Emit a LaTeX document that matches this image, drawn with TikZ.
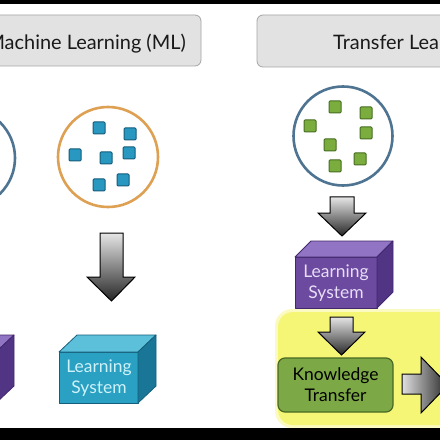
\documentclass[tikz,border=0pt]{standalone}
\usepackage{fontspec}
\setmainfont{Lato}
\begin{document}
\begin{tikzpicture}[x=1bp,y=-1bp,
  hdr/.style={draw=hdrline, fill=hdrfill, rounded corners=6bp, line width=0.8bp},
  hdrtext/.style={font=\fontsize{20}{22}\selectfont, text=black!90, inner sep=0pt},
  ring/.style={circle, draw, line width=2.6bp, minimum size=#1, inner sep=0pt},
  bsq/.style={draw=bsqline, fill=bsqfill, line width=1bp, minimum size=12bp, inner sep=0pt, rounded corners=1bp},
  gsq/.style={draw=gsqline, fill=gsqfill, line width=1bp, minimum size=12bp, inner sep=0pt, rounded corners=1bp},
  blockarrow/.style={draw=black, line width=1bp, line join=miter},
  boxtext/.style={font=\fontsize{17.5}{21}\selectfont, align=center, inner sep=0pt},
]
\definecolor{hdrfill}{RGB}{226,226,226}
\definecolor{hdrline}{RGB}{165,165,165}
\definecolor{ringblue}{RGB}{78,116,146}
\definecolor{ringorange}{RGB}{222,160,82}
\definecolor{bsqfill}{RGB}{40,152,192}
\definecolor{bsqline}{RGB}{22,92,122}
\definecolor{gsqfill}{RGB}{122,172,62}
\definecolor{gsqline}{RGB}{70,110,32}
\definecolor{tealfront}{RGB}{42,160,194}
\definecolor{tealtop}{RGB}{92,192,218}
\definecolor{tealside}{RGB}{26,118,150}
\definecolor{tealline}{RGB}{20,96,124}
\definecolor{tealtext}{RGB}{205,242,250}
\definecolor{purpfront}{RGB}{108,74,160}
\definecolor{purptop}{RGB}{145,116,196}
\definecolor{purpside}{RGB}{82,52,132}
\definecolor{purpline}{RGB}{66,40,110}
\definecolor{purptext}{RGB}{232,222,248}
\definecolor{yel}{RGB}{246,246,118}
\definecolor{ktfill}{RGB}{124,168,70}
\definecolor{ktline}{RGB}{72,104,36}

\useasboundingbox (0,0) rectangle (440,440);
\clip (0,0) rectangle (440,440);
\fill[white] (0,0) rectangle (440,440);

% header boxes
\draw[hdr] (-20,15) rectangle (201,66);
\draw[hdr] (257,15) rectangle (470,67);
\node[hdrtext, anchor=base east] (mltitle) at (186,50) {Machine Learning (ML)};
\node[hdrtext, anchor=base west] (tltitle) at (333,50) {Transfer Learning (TL)};

% rings
\node[ring=100bp, draw=ringblue] (leftring) at (-35,158) {};
\node[ring=100bp, draw=ringorange] (mlring) at (108,157) {};
\node[ring=99bp, draw=ringblue] (tlring) at (343,136) {};

% blue squares
\foreach \i/\px/\py in {1/99/128, 2/130/134, 3/75/155, 4/106/158, 5/129/153, 6/123/180, 7/99/185}
  \node[bsq] (bs\i) at (\px,\py) {};
% green squares
\foreach \i/\px/\py in {1/335/107, 2/366/113, 3/310/126, 4/366/133, 5/330/145, 6/360/159, 7/335/166}
  \node[gsq] (gs\i) at (\px,\py) {};

% yellow area
\fill[yel!45, rounded corners=17bp] (275,309) rectangle (470,428);
\fill[yel, rounded corners=15bp] (278,312) rectangle (470,425);

% down arrow ML
\shade[top color=gray!20, bottom color=black!85]
  (100,233) -- (123,233) -- (123,277) -- (135,277) -- (111.5,301) -- (87,277) -- (100,277) -- cycle;
\draw[blockarrow] (100,233) -- (123,233) -- (123,277) -- (135,277) -- (111.5,301) -- (87,277) -- (100,277) -- cycle;

% down arrow TL (ring to system)
\shade[top color=gray!20, bottom color=black!85]
  (330,197) -- (354,197) -- (354,213) -- (366,213) -- (342,236) -- (318,213) -- (330,213) -- cycle;
\draw[blockarrow] (330,197) -- (354,197) -- (354,213) -- (366,213) -- (342,236) -- (318,213) -- (330,213) -- cycle;

% down arrow TL (system to knowledge transfer)
\shade[top color=gray!20, bottom color=black!85]
  (330,317) -- (353,317) -- (353,332) -- (365,332) -- (341.5,355) -- (318,332) -- (330,332) -- cycle;
\draw[blockarrow] (330,317) -- (353,317) -- (353,332) -- (365,332) -- (341.5,355) -- (318,332) -- (330,332) -- cycle;

% right arrow
\shade[left color=gray!25, right color=black!85]
  (402,374) -- (421,374) -- (421,357) -- (448,385) -- (421,413) -- (421,394) -- (402,394) -- cycle;
\draw[blockarrow] (402,374) -- (421,374) -- (421,357) -- (448,385) -- (421,413) -- (421,394) -- (402,394) -- cycle;

% left purple box (cut)
\begin{scope}[draw=purpline, line width=0.8bp, line join=round]
\filldraw[fill=purpfront] (-83,352) rectangle (-4,403);
\filldraw[fill=purptop] (-83,352) -- (-65,335) -- (14,335) -- (-4,352) -- cycle;
\filldraw[fill=purpside] (-4,352) -- (14,335) -- (14,386) -- (-4,403) -- cycle;
\end{scope}

% teal box
\begin{scope}[draw=tealline, line width=0.8bp, line join=round]
\filldraw[fill=tealfront] (59,352) rectangle (138,403);
\filldraw[fill=tealtop] (59,352) -- (77,335) -- (156,335) -- (138,352) -- cycle;
\filldraw[fill=tealside] (138,352) -- (156,335) -- (156,386) -- (138,403) -- cycle;
\end{scope}
\node[boxtext, text=tealtext] (mlsys) at (99,378) {Learning\\System};

% purple box TL
\begin{scope}[draw=purpline, line width=0.8bp, line join=round]
\filldraw[fill=purpfront] (295,257) rectangle (377,308);
\filldraw[fill=purptop] (295,257) -- (311,241) -- (393,241) -- (377,257) -- cycle;
\filldraw[fill=purpside] (377,257) -- (393,241) -- (393,292) -- (377,308) -- cycle;
\end{scope}
\node[boxtext, text=purptext] (tlsys) at (336,283) {Learning\\System};

% knowledge transfer
\node[draw=ktline, fill=ktfill, line width=1.2bp, rounded corners=7bp,
      minimum width=115bp, minimum height=54bp, boxtext, text=black] (kt) at (335.5,385) {Knowledge\\Transfer};

% black bars
\fill[black] (0,0) rectangle (440,4);
\fill[black] (0,428) rectangle (440,440);
\end{tikzpicture}
\end{document}
